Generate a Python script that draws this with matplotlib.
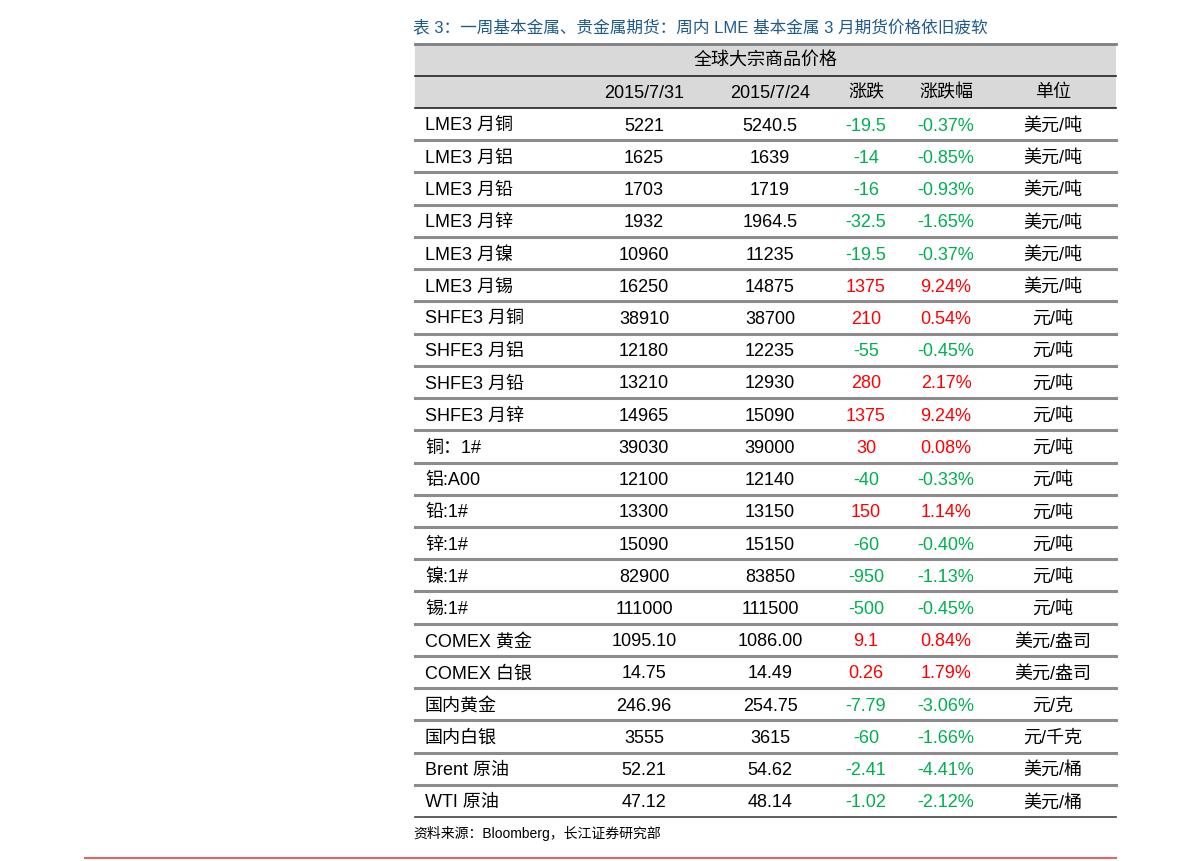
import matplotlib
matplotlib.use("Agg")
import matplotlib.pyplot as plt
from matplotlib.patches import Rectangle

title = "表 3：一周基本金属、贵金属期货：周内 LME 基本金属 3 月期货价格依旧疲软"
group_header = "全球大宗商品价格"
col_headers = ["", "2015/7/31", "2015/7/24", "涨跌", "涨跌幅", "单位"]
names = ["LME3 月铜", "LME3 月铝", "LME3 月铅", "LME3 月锌", "LME3 月镍", "LME3 月锡",
         "SHFE3 月铜", "SHFE3 月铝", "SHFE3 月铅", "SHFE3 月锌", "铜：1#", "铝:A00",
         "铅:1#", "锌:1#", "镍:1#", "锡:1#", "COMEX 黄金", "COMEX 白银", "国内黄金",
         "国内白银", "Brent 原油", "WTI 原油"]
price_0731 = ["5221", "1625", "1703", "1932", "10960", "16250", "38910", "12180", "13210",
              "14965", "39030", "12100", "13300", "15090", "82900", "111000", "1095.10",
              "14.75", "246.96", "3555", "52.21", "47.12"]
price_0724 = ["5240.5", "1639", "1719", "1964.5", "11235", "14875", "38700", "12235", "12930",
              "15090", "39000", "12140", "13150", "15150", "83850", "111500", "1086.00",
              "14.49", "254.75", "3615", "54.62", "48.14"]
change = ["-19.5", "-14", "-16", "-32.5", "-19.5", "1375", "210", "-55", "280", "1375", "30",
          "-40", "150", "-60", "-950", "-500", "9.1", "0.26", "-7.79", "-60", "-2.41", "-1.02"]
pct = ["-0.37%", "-0.85%", "-0.93%", "-1.65%", "-0.37%", "9.24%", "0.54%", "-0.45%", "2.17%",
       "9.24%", "0.08%", "-0.33%", "1.14%", "-0.40%", "-1.13%", "-0.45%", "0.84%", "1.79%",
       "-3.06%", "-1.66%", "-4.41%", "-2.12%"]
units = ["美元/吨"] * 6 + ["元/吨"] * 10 + ["美元/盎司", "美元/盎司", "元/克", "元/千克", "美元/桶", "美元/桶"]
source = "资料来源：Bloomberg，长江证券研究部"

FAM = ["Liberation Sans", "Noto Sans CJK SC", "DejaVu Sans"]
W, H = 1191, 861
fig = plt.figure(figsize=(W / 100, H / 100), dpi=100)
ax = fig.add_axes([0, 0, 1, 1])
ax.set_xlim(0, W)
ax.set_ylim(H, 0)
ax.axis("off")

L, R = 415, 1116
bounds = [415, 575, 710, 830, 905, 990, 1116]
centers = [(bounds[i] + bounds[i + 1]) / 2 for i in range(6)]
centers[1] = 644; centers[2] = 770; centers[3] = 866; centers[4] = 946; centers[5] = 1053
top, h1, h2 = 44, 76, 108
rowh = (817 - 108) / len(names)
fs = 13

ax.text(413, 28, title, fontsize=12, color="#1f5a8c", va="center", ha="left", family=FAM)
ax.add_patch(Rectangle((L, top), R - L, h2 - top, facecolor="#d9d9d9", edgecolor="none"))
ax.plot([L, R], [top, top], color="#7f7f7f", lw=2)
ax.plot([L, R], [h1, h1], color="#222222", lw=1.2)
ax.plot([L, R], [h2, h2], color="#222222", lw=1.2)
ax.text((L + R) / 2, (top + h1) / 2 + 1, group_header, fontsize=fs, ha="center", va="center", family=FAM)
for i, c in enumerate(col_headers):
    if c:
        ax.text(centers[i], (h1 + h2) / 2 + 1, c, fontsize=fs, ha="center", va="center", family=FAM)

green, red = "#00b050", "#ff0000"
for r in range(len(names)):
    y0 = h2 + r * rowh
    yc = y0 + rowh / 2 + 2
    col = red if not change[r].startswith("-") else green
    ax.text(425, yc, names[r], fontsize=fs, ha="left", va="center", family=FAM)
    ax.text(centers[1], yc, price_0731[r], fontsize=fs, ha="center", va="center", family=FAM)
    ax.text(centers[2], yc, price_0724[r], fontsize=fs, ha="center", va="center", family=FAM)
    ax.text(centers[3], yc, change[r], fontsize=fs, ha="center", va="center", color=col, family=FAM)
    ax.text(centers[4], yc, pct[r], fontsize=fs, ha="center", va="center", color=col, family=FAM)
    ax.text(centers[5], yc, units[r], fontsize=fs, ha="center", va="center", family=FAM)
    yb = y0 + rowh
    last = r == len(names) - 1
    ax.plot([L, R], [yb, yb], color="#444444" if last else "#8c8c8c", lw=1.2 if last else 2.2)

ax.text(413, 833, source, fontsize=10, ha="left", va="center", family=FAM)
ax.plot([85, 1116], [858, 858], color="#e06666", lw=1.5)
fig.savefig("out.png", dpi=100)
